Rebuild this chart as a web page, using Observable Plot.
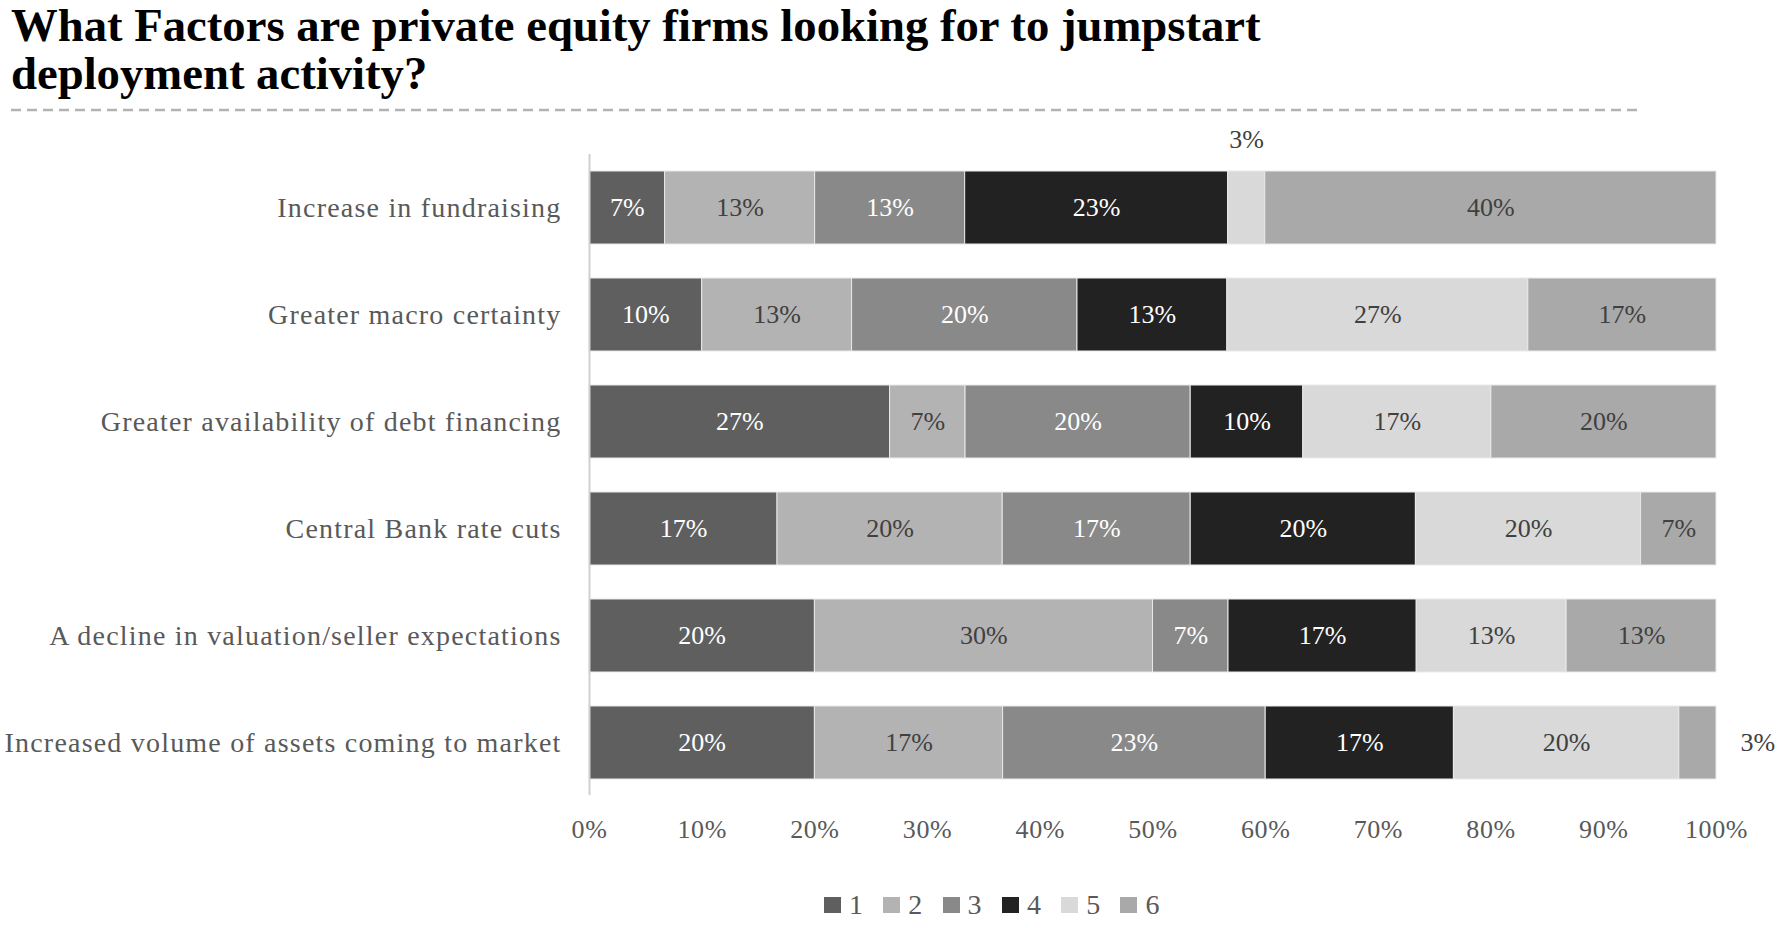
<!DOCTYPE html>
<html>
<head>
<meta charset="utf-8">
<script src="https://cdn.jsdelivr.net/npm/d3@7"></script>
<script src="https://cdn.jsdelivr.net/npm/@observablehq/plot@0.6"></script>
<style>
  html, body { margin: 0; padding: 0; background: #fff; }
  #page { position: relative; width: 1786px; height: 928px; overflow: hidden; }
  #title { position: absolute; left: 11px; top: 1px; font-family: "Liberation Serif", serif; font-weight: bold; font-size: 44px; line-height: 48px; color: #000; white-space: nowrap; }
  #rule { position: absolute; left: 11px; top: 108px; }
  #chart { position: absolute; left: 0; top: 120px; }
  #legend { position: absolute; left: 824px; top: 889px; display: flex; align-items: center; font-family: "Liberation Serif", serif; font-size: 28px; color: #595959; }
  #legend .item { display: flex; align-items: center; width: 59.3px; }
  #legend .sw { width: 17px; height: 16px; margin-right: 8px; }
</style>
</head>
<body>
<div id="page">
  <div id="title"><span id="t1">What Factors are private equity firms looking for to jumpstart</span><br>deployment activity?</div>
  <svg id="rule" width="1640" height="4"><line x1="0" x2="1632" y1="2" y2="2" stroke="#b3b3b3" stroke-width="2.5" stroke-dasharray="10 6"/></svg>
  <div id="chart"></div>
  <div id="legend"></div>
</div>
<script>
const categories = [
  "Increase in fundraising",
  "Greater macro certainty",
  "Greater availability of debt financing",
  "Central Bank rate cuts",
  "A decline in valuation/seller expectations",
  "Increased volume of assets coming to market"
];
const seriesNames = ["1", "2", "3", "4", "5", "6"];
const s1 = [6.7, 10, 26.7, 16.7, 20, 20];
const s2 = [13.3, 13.3, 6.7, 20, 30, 16.7];
const s3 = [13.3, 20, 20, 16.7, 6.7, 23.3];
const s4 = [23.3, 13.3, 10, 20, 16.7, 16.7];
const s5 = [3.3, 26.7, 16.7, 20, 13.3, 20];
const s6 = [40, 16.7, 20, 6.7, 13.3, 3.3];
const xTicks = [0, 0.1, 0.2, 0.3, 0.4, 0.5, 0.6, 0.7, 0.8, 0.9, 1];
const colors = ["#5f5f5f", "#b3b3b3", "#898989", "#222222", "#d9d9d9", "#a9a9a9"];
const labelColors = ["#ffffff", "#404040", "#ffffff", "#ffffff", "#404040", "#404040"];

// fit the title's first line to the reference width
(function fitTitle() {
  const t1 = document.getElementById("t1");
  const w = t1.getBoundingClientRect().width;
  const target = 1250;
  const fs = 44 * target / w;
  document.getElementById("title").style.fontSize = fs.toFixed(2) + "px";
})();

const seriesValues = [s1, s2, s3, s4, s5, s6];
const data = [];
seriesNames.forEach((s, si) => {
  categories.forEach((c, ci) => {
    data.push({category: c, series: s, si, value: seriesValues[si][ci]});
  });
});

// small segments whose labels sit outside the bar
const outsideAbove = d => d.category === categories[0] && d.series === "5";
const outsideRight = d => d.category === categories[5] && d.series === "6";
const pct = d => Math.round(d.value) + "%";

const font = "Liberation Serif, serif";
const stackOpts = {x: "value", y: "category", z: "series", order: seriesNames, offset: "normalize"};

const chart = Plot.plot({
  width: 1786,
  height: 740,
  marginLeft: 589,
  marginRight: 70,
  marginTop: 34,
  marginBottom: 65,
  style: {fontFamily: font, fontSize: "26px", color: "#595959", background: "transparent"},
  x: {domain: [0, 1], ticks: xTicks, tickFormat: d3.format(".0%"), label: null, tickSize: 0, tickPadding: 24},
  y: {domain: categories, paddingInner: 0.318, paddingOuter: 0.154, label: null, tickSize: 0, tickPadding: 28},
  color: {domain: seriesNames, range: colors},
  marks: [
    Plot.barX(data, Plot.stackX({...stackOpts, fill: "series", stroke: "#e9e9e9", strokeWidth: 1})),
    Plot.ruleX([0], {stroke: "#d0d0d0", strokeWidth: 2}),
    Plot.text(data, Plot.stackX({...stackOpts, text: d => (outsideAbove(d) || outsideRight(d)) ? "" : pct(d), fill: d => labelColors[d.si], fontSize: 26})),
    Plot.text(data, Plot.stackX({...stackOpts, text: d => outsideAbove(d) ? pct(d) : "", fill: "#404040", fontSize: 26, dy: -68})),
    Plot.text(data, Plot.stackX2({...stackOpts, text: d => outsideRight(d) ? pct(d) : "", fill: "#404040", fontSize: 26, textAnchor: "start", dx: 24}))
  ]
});
chart.querySelectorAll('[aria-label="y-axis tick label"] text').forEach(t => {
  t.setAttribute("fill", "#595959");
  t.setAttribute("font-size", "28");
  t.setAttribute("letter-spacing", "1.2");
});
chart.querySelectorAll('[aria-label="x-axis tick label"] text').forEach(t => {
  t.setAttribute("fill", "#595959");
  t.setAttribute("letter-spacing", "0.6");
});
document.getElementById("chart").appendChild(chart);

const legend = document.getElementById("legend");
seriesNames.forEach((s, i) => {
  const item = document.createElement("div");
  item.className = "item";
  const sw = document.createElement("span");
  sw.className = "sw";
  sw.style.background = colors[i];
  const lab = document.createElement("span");
  lab.textContent = s;
  item.appendChild(sw);
  item.appendChild(lab);
  legend.appendChild(item);
});
</script>
</body>
</html>
